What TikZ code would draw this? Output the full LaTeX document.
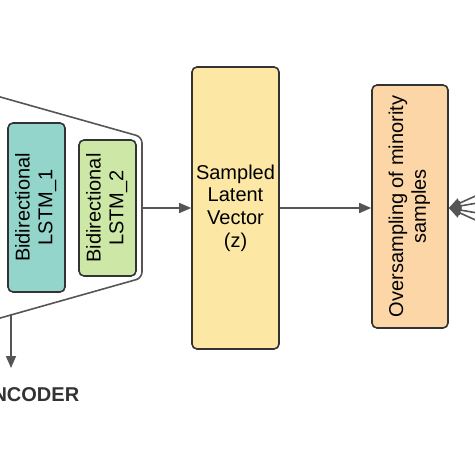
\documentclass[tikz,border=0pt]{standalone}
\usepackage{fontspec}
\setmainfont{Liberation Sans}
\usetikzlibrary{arrows.meta,positioning}
\definecolor{lineGray}{HTML}{555555}
\definecolor{edgeDark}{HTML}{333333}
\definecolor{tealFill}{HTML}{93D5CB}
\definecolor{greenFill}{HTML}{CDE8A6}
\definecolor{yellowFill}{HTML}{FCE7A5}
\definecolor{peachFill}{HTML}{FCD6A7}
\tikzstyle{block} = [rectangle, draw=edgeDark, line width=0.8pt, rounded corners=2.5pt,
    inner sep=0pt, align=center, font=\fontsize{10}{11.3}\selectfont]
\tikzstyle{link} = [draw=lineGray, line width=0.8pt]

\begin{document}
\begin{tikzpicture}[x=0.5pt,y=-0.5pt,->,>={Triangle[length=6pt,width=5pt]},
                    link]

  \useasboundingbox (0,0) rectangle (474,474);

  % encoder outline
  \draw[-,rounded corners=3pt] (-60,80) -- (142,137) -- (142,278) -- (-60,335);
  \coordinate (encright) at (142,208);
  \coordinate (encout)   at (11,314);
  \coordinate (encdown)  at (11,368);

  \node[block,fill=tealFill,minimum width=28.5pt,minimum height=84.5pt]  (lstm1) at (36.5,207.5)
       {\rotatebox{90}{\begin{tabular}{@{}c@{}}Bidirectional\\LSTM\_1\end{tabular}}};
  \node[block,fill=greenFill,minimum width=28.5pt,minimum height=68pt]   (lstm2) at (107.5,208)
       {\rotatebox{90}{\begin{tabular}{@{}c@{}}Bidirectional\\LSTM\_2\end{tabular}}};
  \node[block,fill=yellowFill,minimum width=43.5pt,minimum height=141pt] (latent) at (235.5,208)
       {Sampled\\Latent\\Vector\\(z)};
  \node[block,fill=peachFill,minimum width=38pt,minimum height=121.5pt] (over) at (410,206.5)
       {\rotatebox{90}{\begin{tabular}{@{}c@{}}Oversampling of minority\\samples\end{tabular}}};

  \node[anchor=base east,inner sep=0pt,text=edgeDark,font=\fontsize{10}{12}\selectfont\bfseries]
       (enclabel) at (80,401) {ENCODER};

  % incoming arrows on the right
  \foreach \y in {185,199,217,231}
    \coordinate (fan\y) at (500,\y);

  \path (encout)       edge (encdown)
        (encright)     edge (latent.west)
        (latent.east)  edge (latent.east -| over.west);
  \foreach \y in {185,199,217,231}
    \draw (fan\y) -- (latent.east -| over.east);
\end{tikzpicture}
\end{document}
